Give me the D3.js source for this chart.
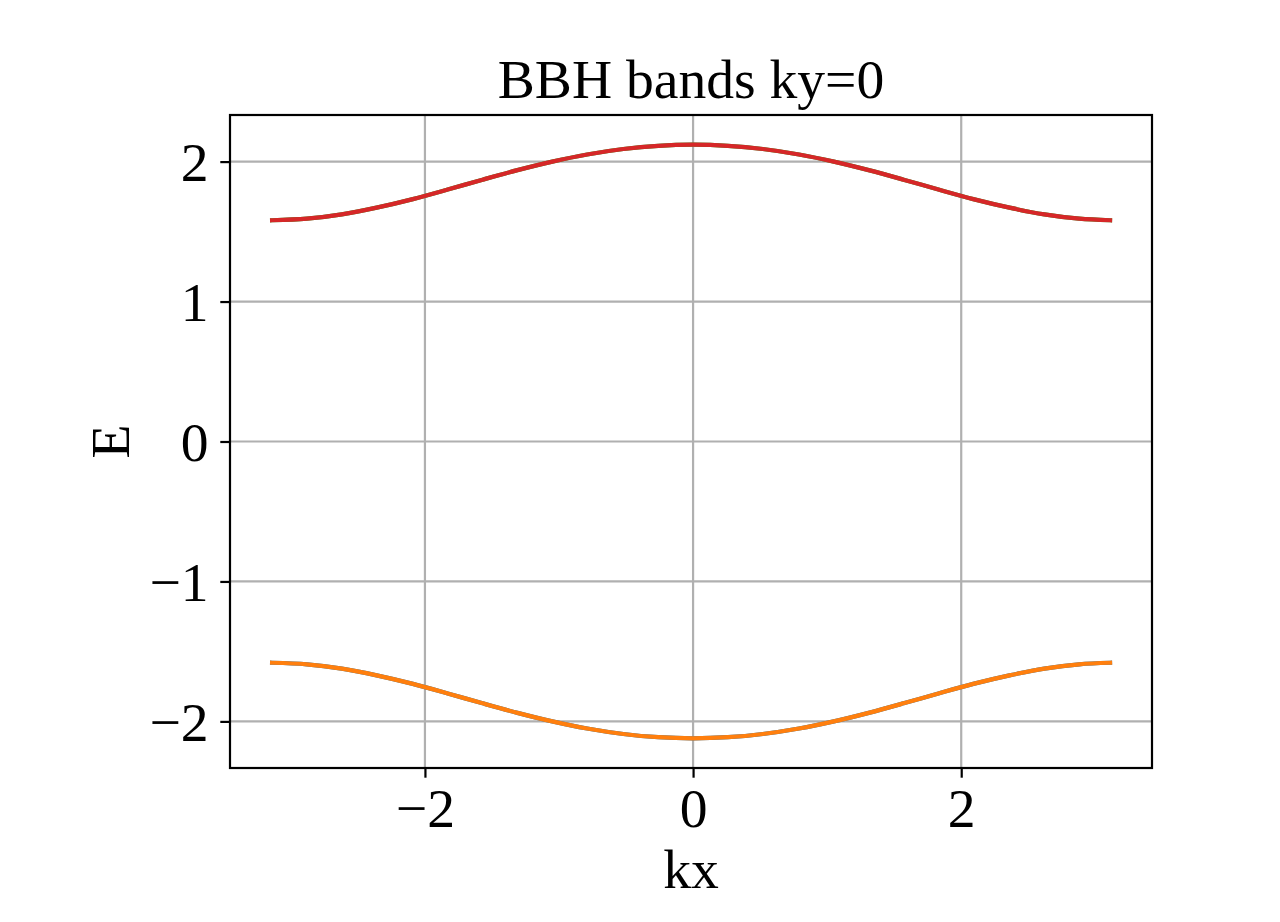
<!DOCTYPE html>
<html lang="en">
  <head>
    <meta charset="utf-8">
    <title>BBH bands ky=0</title>
    <script type="text/javascript" src="https://d3js.org/d3.v7.min.js"></script>
    <style>
    body {
      margin:0;
      background-color:#ffffff;
    }
    text {
      font-family:"Liberation Serif", "Times New Roman", serif;
      fill:#000000;
    }
    </style>
  </head>
  <body>
    <div id="chart"></div>
    <script type="text/javascript">
// values
    const kx = [-3.14, -2.88, -2.62, -2.36, -2.09, -1.83, -1.57, -1.31, -1.05, -0.79, -0.52, -0.26,
      0, 0.26, 0.52, 0.79, 1.05, 1.31, 1.57, 1.83, 2.09, 2.36, 2.62, 2.88, 3.11];
    const upperBand = [1.581, 1.592, 1.623, 1.671, 1.732, 1.800, 1.871, 1.939, 2.000, 2.051, 2.090, 2.113,
      2.121, 2.113, 2.090, 2.051, 2.000, 1.939, 1.871, 1.800, 1.732, 1.671, 1.623, 1.592, 1.581];
    const lowerBand = [-1.581, -1.592, -1.623, -1.671, -1.732, -1.800, -1.871, -1.939, -2.000, -2.051, -2.090, -2.113,
      -2.121, -2.113, -2.090, -2.051, -2.000, -1.939, -1.871, -1.800, -1.732, -1.671, -1.623, -1.592, -1.581];
    const bands = [lowerBand, lowerBand, upperBand, upperBand];// two degenerate pairs
    const bandColors = ["#1f77b4", "#ff7f0e", "#2ca02c", "#d62728"];
    const xTicks = [-2, 0, 2];
    const yTicks = [-2, -1, 0, 1, 2];

    const width = 1280, height = 922;
    const margin = {'top': 115, 'bottom': 154, 'left': 230, 'right': 128};
    const fontSize = 55.6;
    const tickLen = 9.7, tickPad = 9.7;

    const svg = d3.select("#chart").append("svg").attr("width", width).attr("height", height);
    const xScale = d3.scaleLinear().domain([-3.454, 3.423]).range([margin.left, width - margin.right]);
    const yScale = d3.scaleLinear().domain([-2.333, 2.333]).range([height - margin.bottom, margin.top]);

// grid
    svg.append("g").selectAll("line").data(xTicks).join("line")
      .attr("x1", d => xScale(d)).attr("x2", d => xScale(d))
      .attr("y1", margin.top).attr("y2", height - margin.bottom)
      .attr("stroke", "#b0b0b0").attr("stroke-width", 2.2);
    svg.append("g").selectAll("line").data(yTicks).join("line")
      .attr("y1", d => yScale(d)).attr("y2", d => yScale(d))
      .attr("x1", margin.left).attr("x2", width - margin.right)
      .attr("stroke", "#b0b0b0").attr("stroke-width", 2.2);

// bands
    const line = d3.line().x((d, i) => xScale(kx[i])).y(d => yScale(d)).curve(d3.curveMonotoneX);
    bands.forEach((band, i) => {
      svg.append("path").datum(band)
        .attr("fill", "none")
        .attr("stroke", bandColors[i])
        .attr("stroke-width", 4.2)
        .attr("stroke-linecap", "square")
        .attr("d", line);
    });

// axes
    const xAxis = svg.append("g").attr("transform", `translate(0,${height - margin.bottom})`)
      .call(d3.axisBottom(xScale).tickValues(xTicks).tickFormat(d3.format("d")).tickSize(tickLen).tickPadding(tickPad));
    const yAxis = svg.append("g").attr("transform", `translate(${margin.left},0)`)
      .call(d3.axisLeft(yScale).tickValues(yTicks).tickFormat(d3.format("d")).tickSize(tickLen).tickPadding(tickPad));
    [xAxis, yAxis].forEach(ax => {
      ax.select(".domain").remove();
      ax.selectAll(".tick line").attr("stroke", "#000000").attr("stroke-width", 2.2);
      ax.selectAll(".tick text").attr("font-size", fontSize)
        .attr("font-family", "Liberation Serif, serif").attr("fill", "#000000");
    });
    xAxis.selectAll(".tick text").attr("dy", null).attr("y", tickLen + tickPad + 40);
    yAxis.selectAll(".tick text").attr("dy", null).attr("y", 19).attr("x", -(tickLen + tickPad + 2));

// frame
    svg.append("rect")
      .attr("x", margin.left).attr("y", margin.top)
      .attr("width", width - margin.right - margin.left)
      .attr("height", height - margin.bottom - margin.top)
      .attr("fill", "none").attr("stroke", "#000000").attr("stroke-width", 2.2);

// labels
    const cx = (margin.left + width - margin.right) / 2;
    svg.append("text").attr("x", cx).attr("y", 98).attr("text-anchor", "middle")
      .attr("font-size", fontSize).text("BBH bands ky=0");
    svg.append("text").attr("x", cx).attr("y", 888).attr("text-anchor", "middle")
      .attr("font-size", fontSize).text("kx");
    svg.append("text").attr("transform", `translate(129,${yScale(0)}) rotate(-90)`)
      .attr("text-anchor", "middle").attr("font-size", fontSize).text("E");
    </script>
  </body>
</html>
